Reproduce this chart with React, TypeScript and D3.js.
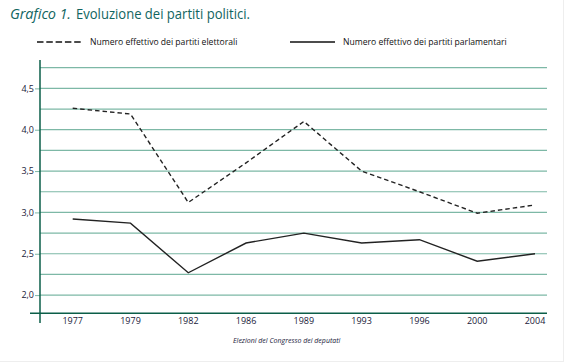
import React, { useEffect, useRef } from 'react';
import * as d3 from 'd3';

const years = ['1977', '1979', '1982', '1986', '1989', '1993', '1996', '2000', '2004'];
const elettorali = [4.26, 4.19, 3.12, 3.6, 4.1, 3.5, 3.25, 2.99, 3.09];
const parlamentari = [2.92, 2.87, 2.27, 2.63, 2.75, 2.63, 2.67, 2.41, 2.5];
const yTicks = [2.0, 2.5, 3.0, 3.5, 4.0, 4.5];
const gridValues = [2.0, 2.25, 2.5, 2.75, 3.0, 3.25, 3.5, 3.75, 4.0, 4.25, 4.5, 4.75];

const FONT = "'Open Sans', 'Noto Sans', sans-serif";

const App = () => {
  const ref = useRef(null);

  useEffect(() => {
    if (!ref.current) return;
    const svg = d3.select(ref.current);
    svg.selectAll('*').remove();

    const x = d3.scalePoint().domain(years).range([72.7, 535]);
    const y = d3.scaleLinear().domain([1.78, 4.75]).range([313.3, 67.7]);
    const axisColor = '#0b5e48';
    const gridColor = '#7db8a6';

    // title
    svg.append('text')
      .attr('x', 10).attr('y', 19)
      .attr('font-family', FONT).attr('font-size', 14.5).attr('font-style', 'italic')
      .attr('fill', '#11655f')
      .attr('textLength', 61)
      .text('Grafico 1.');
    svg.append('text')
      .attr('x', 76).attr('y', 19)
      .attr('font-family', FONT).attr('font-size', 14.5)
      .attr('fill', '#11655f')
      .attr('textLength', 174).attr('lengthAdjust', 'spacingAndGlyphs')
      .text('Evoluzione dei partiti politici.');

    // legend
    const legend = [
      { x: 37, label: 'Numero effettivo dei partiti elettorali', dash: '6.5,2.8' },
      { x: 290, label: 'Numero effettivo dei partiti parlamentari', dash: null },
    ];
    legend.forEach(l => {
      svg.append('line')
        .attr('x1', l.x).attr('x2', l.x + 45).attr('y1', 42).attr('y2', 42)
        .attr('stroke', '#111').attr('stroke-width', 1.6)
        .attr('stroke-dasharray', l.dash);
      svg.append('text')
        .attr('x', l.x + 53).attr('y', 45)
        .attr('font-family', FONT).attr('font-size', 8.6)
        .attr('fill', '#111').text(l.label);
    });

    // gridlines
    svg.append('g').selectAll('line')
      .data(gridValues)
      .enter().append('line')
      .attr('x1', 40).attr('x2', 547)
      .attr('y1', d => y(d)).attr('y2', d => y(d))
      .attr('stroke', gridColor).attr('stroke-width', 1.2);

    // y axis
    const yAxis = svg.append('g')
      .attr('transform', 'translate(40,0)')
      .call(d3.axisLeft(y).tickValues(yTicks).tickSize(5).tickFormat(d => d3.format('.1f')(d).replace('.', ',')));
    yAxis.select('.domain').remove();
    yAxis.selectAll('.tick line').attr('stroke', gridColor).attr('stroke-width', 1);
    yAxis.selectAll('.tick text')
      .attr('font-family', FONT).attr('font-size', 9).attr('fill', '#1a1a3a').attr('x', -6);

    svg.append('line')
      .attr('x1', 40).attr('x2', 40).attr('y1', 60).attr('y2', 323)
      .attr('stroke', axisColor).attr('stroke-width', 1.5);
    svg.append('line')
      .attr('x1', 30).attr('x2', 547).attr('y1', 313.3).attr('y2', 313.3)
      .attr('stroke', axisColor).attr('stroke-width', 1.5);

    // x labels
    svg.append('g').selectAll('text')
      .data(years)
      .enter().append('text')
      .attr('x', d => x(d) as number).attr('y', 324)
      .attr('text-anchor', 'middle')
      .attr('font-family', FONT).attr('font-size', 9).attr('fill', '#1a1a3a')
      .text(d => d);

    svg.append('text')
      .attr('x', 233).attr('y', 343)
      .attr('font-family', FONT).attr('font-size', 7).attr('font-style', 'italic')
      .attr('fill', '#1a1a3a')
      .text('Elezioni del Congresso dei deputati');

    const line = d3.line<number>()
      .x((_, i) => x(years[i]) as number)
      .y(d => y(d));

    svg.append('path')
      .datum(elettorali)
      .attr('d', line)
      .attr('fill', 'none').attr('stroke', '#222').attr('stroke-width', 1.4)
      .attr('stroke-dasharray', '4.5,3');

    svg.append('path')
      .datum(parlamentari)
      .attr('d', line)
      .attr('fill', 'none').attr('stroke', '#222').attr('stroke-width', 1.4);

    // faint frame
    svg.append('line')
      .attr('x1', 563.5).attr('x2', 563.5).attr('y1', 0).attr('y2', 361)
      .attr('stroke', '#eeeeee');
    svg.append('line')
      .attr('x1', 0).attr('x2', 564).attr('y1', 361.5).attr('y2', 361.5)
      .attr('stroke', '#eeeeee');
  }, []);

  return (
    <svg ref={ref} width={566} height={363}
      style={{ position: 'absolute', left: 0, top: 0, background: '#fff' }} />
  );
};

export default App;
